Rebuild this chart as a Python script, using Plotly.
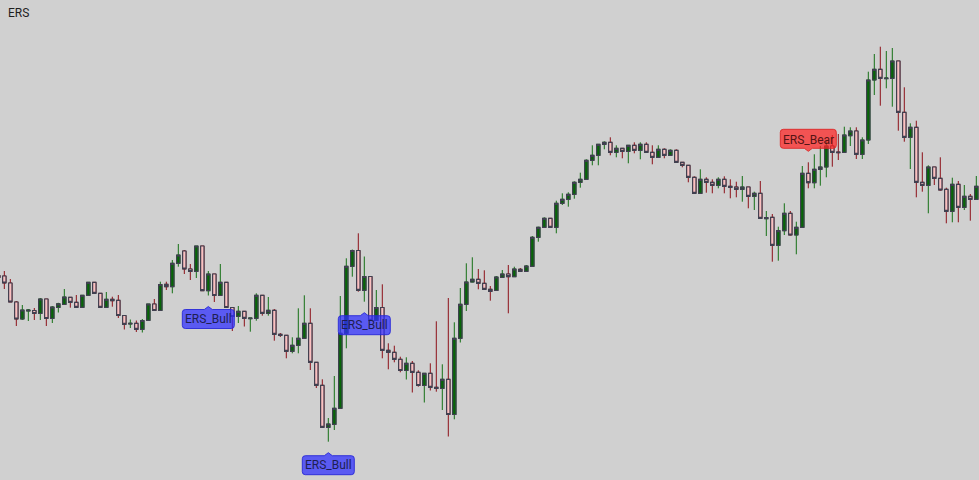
import plotly.graph_objects as go

# bar number, -1 is the bar cut by the left edge
bar_index = list(range(-1, 163))

open_ = [204.5, 204, 197, 178, 161, 169, 169.5, 166.5, 181, 161.5,
         172.5, 175.5, 182.7, 177.7, 172.7, 184.7, 197.7, 186.7, 172.7, 180.7,
         179.7, 164.5, 156, 156.7, 150.7, 159.7, 176, 169.5, 195.7, 193.3,
         216.7, 229, 211, 208.7, 234, 189.3, 206, 184.5, 197.7, 172.5,
         163.7, 168.7, 161.3, 161.7, 184.7, 166.7, 169.7, 145.7, 144.7, 128.7,
         134.7, 141.7, 156.7, 117.7, 94.7, 52.7, 55.7, 71.7, 146.7, 213.7,
         229.5, 189.7, 203.5, 159.7, 172.5, 129.7, 127.7, 120.7, 109.5, 116.7,
         107.7, 94.5, 106.7, 92.7, 91.5, 100.7, 65.5, 141.7, 175.7, 198,
         200.7, 196.7, 190.7, 189.5, 202.7, 206, 203.3, 210.7, 208.7, 213.7,
         242.7, 252.7, 261.7, 252.7, 276.7, 280.7, 285.7, 297.7, 300.7, 319.7,
         324.7, 335.7, 337.7, 327.7, 331.7, 328.7, 334.7, 329.7, 335.7, 327.7,
         322.7, 330.7, 324.7, 329.7, 317.7, 314.7, 302.7, 286.7, 300.7, 297.7,
         294.7, 300.7, 293.7, 293, 290.7, 293, 283.7, 286.7, 261.3, 262.7,
         234.7, 249.3, 266.7, 245, 252.7, 306.7, 297.3, 310.7, 313, 334,
         328, 327.7, 344.3, 349, 325.7, 340, 400, 410.7, 401.4, 401.7,
         419, 367.7, 342.7, 352.7, 297.7, 294.7, 313, 301.7, 290.7, 268.7,
         295.7, 272.7, 283.7, 280.7]

high = [207, 209, 201, 179, 175, 171, 172, 182, 181, 174,
        177.2, 191, 182.7, 185, 185, 198, 198, 187, 188, 183.3,
        185, 164.5, 160.5, 159.5, 161, 176, 181, 198.3, 198.3, 220,
        236, 230, 216, 234, 234, 209, 206, 216, 198, 172.5,
        174, 168.7, 162, 186.7, 184.7, 183, 171, 147, 144.7, 142.7,
        171.7, 184.7, 171.7, 117.7, 100.7, 62, 104, 184, 221.7, 230.5,
        246.7, 223.5, 203.5, 190, 195.7, 136.7, 134.3, 123.3, 122.7, 119,
        109.7, 106.7, 116.7, 158.7, 115.7, 182, 157.7, 192, 216.7, 222.7,
        211, 209.7, 194, 204, 210, 215, 213.3, 212, 215, 244,
        253.3, 262.7, 262, 279.3, 286.7, 287.7, 298.7, 307.3, 320.7, 334.7,
        336, 338.7, 342.7, 334.7, 331.7, 334.7, 337.7, 337.7, 337.7, 334.7,
        334.7, 331.7, 330.7, 330.7, 317.7, 314.7, 303.7, 310.7, 302.7, 300.7,
        302.7, 303.7, 300.7, 298.3, 304, 293, 288.3, 299, 269, 266,
        253.3, 276.7, 269, 258.3, 314, 317.7, 325.7, 334, 340, 345,
        346, 353.3, 352.7, 352.7, 342.7, 408.3, 426, 433.3, 429, 432,
        419, 392.7, 356.7, 359.3, 327.7, 314.7, 313, 322.7, 292.3, 302.3,
        299, 295, 286, 304]

low = [201, 191, 178, 154, 160, 159, 160, 160, 154, 157,
       167.5, 175.5, 172.3, 172.7, 172.5, 184.5, 186.5, 172.5, 172.5, 173.3,
       162, 150.5, 152, 148, 147.5, 159.5, 169.5, 169.5, 190, 186.7,
       213.3, 206, 200, 202, 189, 184.5, 178, 184.5, 172.5, 149,
       157, 153.5, 148.3, 159.3, 164.3, 164.3, 139.3, 143, 121.7, 126.7,
       126.7, 141.7, 110, 92, 52.5, 38.3, 50, 71.5, 131.7, 203.3,
       188.3, 178.3, 159.5, 159.5, 121.7, 110.7, 117.7, 107.7, 100.5, 87.5,
       93.3, 77.5, 89.5, 88.3, 70, 43.5, 60.7, 137.5, 169, 197.7,
       190.7, 190.5, 179.3, 189, 202.5, 166.7, 203, 208, 208.5, 213.5,
       238.3, 252.5, 252.5, 246.7, 275, 273.3, 281.3, 292.3, 300.5, 314.7,
       314.7, 330.7, 324.7, 322.7, 321.7, 316.7, 326.7, 320.7, 327.5, 315.7,
       322.5, 321.7, 324.5, 317.5, 312.7, 297.7, 286.5, 286.5, 287.3, 286.7,
       291.7, 286.7, 281.7, 282.7, 278.3, 271.7, 270, 261.5, 244, 218.3,
       219.3, 245, 244.5, 225.7, 252.5, 291.7, 291.7, 294.3, 302.7, 313.3,
       320, 327.5, 334, 321, 321, 336, 385, 374.3, 391.7, 373.3,
       349.3, 338.3, 311, 282.7, 288.3, 266.7, 295, 289.3, 256.7, 257.7,
       257.7, 270, 259.3, 280]

close = [202.5, 197, 178, 161, 170, 170, 166.5, 181, 161.5, 173,
         176.2, 183, 177.7, 172.7, 184.7, 197.7, 186.7, 172.7, 180.7, 179.3,
         164.5, 155.7, 156.7, 150.7, 159.5, 176, 169.5, 195.5, 193.3, 216.7,
         225, 211, 208.5, 234, 189.3, 206, 184.5, 197.7, 172.5, 163.5,
         168.7, 161.7, 162, 184.7, 166.7, 169.7, 145.7, 144.7, 128.7, 134.7,
         141.7, 156.7, 117.7, 94.7, 52.7, 56, 71.7, 146.7, 213.7, 229.5,
         189.7, 203.5, 159.7, 172.5, 129.7, 127.7, 120.7, 109.5, 116.7, 107.7,
         94.5, 106.7, 92.7, 91.5, 100.7, 65.5, 141.7, 175.7, 198, 200.7,
         196.7, 190.7, 188.7, 203, 206, 203.3, 211, 208.7, 214, 242.7,
         252.7, 261.7, 252.7, 276.7, 280.7, 285.7, 297.7, 300.7, 319.7, 324.7,
         335.7, 337.7, 327.7, 331.7, 328.7, 334.7, 329.7, 335.7, 327.7, 322.7,
         330.7, 324.7, 329.7, 317.7, 314.7, 302.7, 286.7, 300.7, 297.7, 294.7,
         300.7, 293.7, 292.7, 290.7, 293, 283.7, 286.7, 261.7, 262.3, 234.7,
         249.3, 266.7, 245, 252.7, 306.7, 297.3, 310.7, 313, 334, 327.7,
         327.4, 345, 349, 325.7, 340, 400, 410.7, 401.7, 402, 419,
         367.7, 342.7, 352.7, 297.7, 294.7, 313, 301.7, 290, 268.7, 295.7,
         272.7, 283.7, 280.7, 293.7]

# signal bars
bull_bars = [34, 54, 60]
bear_bars = [134]
bull_text = "ERS_Bull"
bear_text = "ERS_Bear"
chart_title = "ERS"

BG = "#d0d0d0"
WICK_UP = "#157015"
WICK_DOWN = "#8c1018"
BODY_UP = "#066606"
BODY_DOWN = "#fcc0c0"
OUTLINE = "#404050"
FONT = "Roboto"

body_top = [max(o, c) for o, c in zip(open_, close)]
body_bottom = [min(o, c) for o, c in zip(open_, close)]

# wicks: full range, coloured by direction
wicks = go.Candlestick(
    x=bar_index, open=open_, high=high, low=low, close=close,
    increasing=dict(line=dict(color=WICK_UP, width=1), fillcolor=WICK_UP),
    decreasing=dict(line=dict(color=WICK_DOWN, width=1), fillcolor=WICK_DOWN),
    hoverinfo="skip", showlegend=False
)

# bodies drawn on top with a grey outline
bodies = go.Candlestick(
    x=bar_index, open=open_, high=body_top, low=body_bottom, close=close,
    increasing=dict(line=dict(color=OUTLINE, width=1.2), fillcolor=BODY_UP),
    decreasing=dict(line=dict(color=OUTLINE, width=1.2), fillcolor=BODY_DOWN),
    hoverinfo="skip", showlegend=False
)

fig = go.Figure(data=[wicks, bodies])


def label_path(half_w, below):
    # rounded box with a small pointer, in pixels around the anchor
    s = -1 if below else 1
    r = 3
    t0, t1, top, bot = 11 * s, 14 * s, 14 * s, 33 * s
    pts = [
        "M -4 %g" % t1, "L 0 %g" % t0, "L 4 %g" % t1,
        "L %g %g" % (half_w - r, top), "Q %g %g %g %g" % (half_w, top, half_w, top + s * r),
        "L %g %g" % (half_w, bot - s * r), "Q %g %g %g %g" % (half_w, bot, half_w - r, bot),
        "L %g %g" % (-half_w + r, bot), "Q %g %g %g %g" % (-half_w, bot, -half_w, bot - s * r),
        "L %g %g" % (-half_w, top + s * r), "Q %g %g %g %g" % (-half_w, top, -half_w + r, top),
        "Z",
    ]
    return " ".join(pts)


shapes = []
annotations = []
for b in bull_bars:
    i = bar_index.index(b)
    shapes.append(dict(
        type="path", xref="x", yref="y", xsizemode="pixel", ysizemode="pixel",
        xanchor=b, yanchor=low[i], path=label_path(26, True),
        fillcolor="rgba(45,45,255,0.72)", line=dict(color="rgba(40,40,215,0.9)", width=1),
        layer="above"
    ))
    annotations.append(dict(
        x=b, y=low[i], xref="x", yref="y", text=bull_text, showarrow=False,
        xanchor="center", yanchor="middle", yshift=-23.5,
        font=dict(family=FONT, size=12, color="#1e1e52")
    ))

for b in bear_bars:
    i = bar_index.index(b)
    shapes.append(dict(
        type="path", xref="x", yref="y", xsizemode="pixel", ysizemode="pixel",
        xanchor=b, yanchor=high[i], path=label_path(28, False),
        fillcolor="rgba(255,35,35,0.72)", line=dict(color="rgba(220,40,40,0.9)", width=1),
        layer="above"
    ))
    annotations.append(dict(
        x=b, y=high[i], xref="x", yref="y", text=bear_text, showarrow=False,
        xanchor="center", yanchor="middle", yshift=22.5,
        font=dict(family=FONT, size=12, color="#561414")
    ))

annotations.append(dict(
    x=0.006, y=0.973, xref="paper", yref="paper", text=chart_title, showarrow=False,
    xanchor="left", yanchor="middle", font=dict(family=FONT, size=12, color="#1e1e1e")
))

fig.update_layout(
    width=979, height=480, autosize=False,
    margin=dict(l=0, r=0, t=0, b=0, pad=0),
    paper_bgcolor=BG, plot_bgcolor=BG,
    showlegend=False, hovermode=False,
    boxgap=0.2,
    shapes=shapes, annotations=annotations,
    xaxis=dict(range=[-0.72, 162.45], visible=False, showgrid=False, zeroline=False,
               rangeslider=dict(visible=False), fixedrange=True),
    yaxis=dict(range=[0, 480], visible=False, showgrid=False, zeroline=False, fixedrange=True),
)

# page body has a default 8px margin; drop it so the chart fills the window
fig.write_html("out.html", config=dict(displayModeBar=False),
               post_script="document.body.style.margin='0';")
